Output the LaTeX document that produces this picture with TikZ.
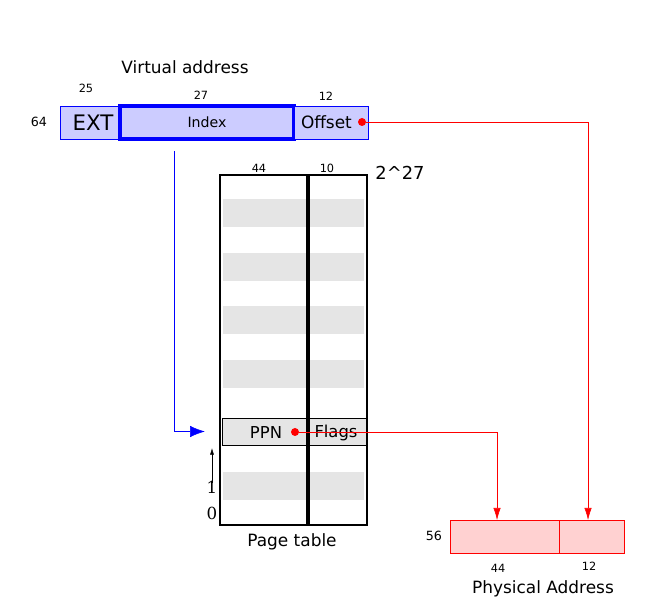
\documentclass[tikz,border=0pt]{standalone}
\usepackage{fontspec}
\setsansfont{DejaVu Sans}
\newfontfamily\digitfont{DejaVu Serif}
\usetikzlibrary{positioning,arrows.meta}
\tikzset{vfield/.style={draw=blue, fill=blue!20, minimum height=24.75pt, inner sep=0pt, outer sep=0pt},
  pfield/.style={draw=red, fill=red!18, minimum height=24.75pt, inner sep=0pt, outer sep=0pt},
  bits/.style={font=\sffamily\fontsize{8.5}{10}\selectfont, inner sep=0pt},
  caption/.style={font=\sffamily\fontsize{12.7}{15}\selectfont, inner sep=0pt},
  stripe/.style={fill=gray!20, draw=none},
  redline/.style={red, -{Latex[length=9pt,width=5.5pt]}},
  dot/.style={circle, fill=red, inner sep=0pt, minimum size=6pt}}

\begin{document}
\begin{tikzpicture}[x=0.75pt, y=-0.75pt]
    \useasboundingbox (0,0) rectangle (654,609);
    % virtual address
    \node[caption]                                   (vcap) at (185,67) {Virtual address};
    \node[vfield, minimum width=45pt, anchor=west]   (ext) at (60,122.5) {\hspace{4.5pt}\sffamily\fontsize{16}{18}\selectfont EXT};
    \node[vfield, minimum width=130.5pt, right=0pt of ext, line width=2.4pt, font=\sffamily\fontsize{10.6}{12}\selectfont] (idx) {Index};
    \node[vfield, minimum width=55.5pt, right=0pt of idx, font=\sffamily\fontsize{12.7}{14}\selectfont, text width=45pt, inner xsep=5.25pt, align=left] (off) {Offset};
    \node[bits]                      at (86,88)  {25};
    \node[bits]                      at (201,95) {27};
    \node[bits]                      at (326,96) {12};
    \node[bits, font=\sffamily\fontsize{9.5}{11}\selectfont] at (39,122) {64};
    \node[dot]                       (offdot) at (362,122) {};

    % page table
    \foreach \y in {199,253,306,360,472}
        \fill[stripe] (223,\y) rectangle (364,\y+28);
    \node[draw, fill=gray!20, minimum width=108.75pt, minimum height=20.25pt, inner sep=0pt] (row) at (294.5,431.5) {};
    \node[draw, line width=1.8pt, minimum width=110.25pt, minimum height=262.5pt, inner sep=0pt] (table) at (293.5,350) {};
    \draw[line width=2.5pt] (308,175) -- (308,525);
    \node[bits]                      at (259,168) {44};
    \node[bits]                      at (327,168) {10};
    \node[caption, font=\sffamily\fontsize{13.4}{15}\selectfont] at (400,173) {2\^{}27};
    \node[caption, font=\sffamily\fontsize{12.3}{14}\selectfont] (ppn) at (266,433) {PPN};
    \node[caption, font=\sffamily\fontsize{12.3}{14}\selectfont] (flags) at (336,433) {Flags};
    \node[dot]                       (ppndot) at (295,432) {};
    \node[font=\digitfont\fontsize{12.5}{14}\selectfont, inner sep=0pt] (one) at (212,487) {1};
    \node[font=\digitfont\fontsize{12.5}{14}\selectfont, inner sep=0pt] (zero) at (212,513) {0};
    \coordinate (oneup) at (212,448);
    \node[caption] (tcap) at (292,542) {Page table};

    % physical address
    \node[pfield, minimum width=81.75pt, anchor=west] (pa44) at (450,536.5) {};
    \node[pfield, minimum width=48.75pt, right=0pt of pa44] (pa12) {};
    \node[bits, font=\sffamily\fontsize{9.5}{11}\selectfont] at (434,536) {56};
    \node[bits]                      at (498,568) {44};
    \node[bits]                      at (589,566) {12};
    \node[caption] (pcap) at (543,589) {Physical Address};

    % connectors
    \coordinate (idxout) at (174,151);
    \draw[blue, -{Latex[length=11pt,width=8.5pt]}] (idxout) |- ([xshift=-12.75pt]row.west);
    \draw[-{Latex[length=5pt,width=3pt]}] ([yshift=-2pt]one.north) -- (oneup);
    \draw[redline] (ppndot) -| ([xshift=-5.6pt]pa44.north);
    \draw[redline] (offdot) -| ([xshift=-2.6pt]pa12.north);
\end{tikzpicture}
\end{document}
